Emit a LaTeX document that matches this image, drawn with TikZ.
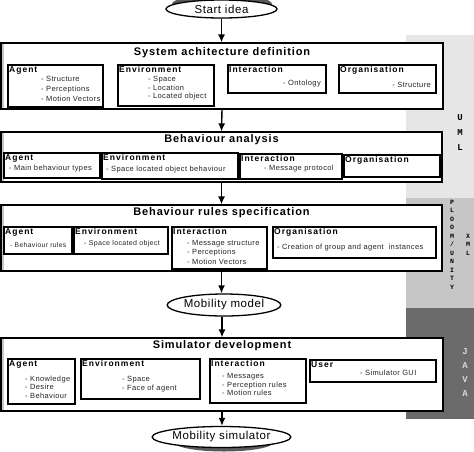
\documentclass[tikz,border=0pt]{standalone}
\usepackage{fontspec}
\setmainfont{Liberation Sans}
\newfontfamily\titlefont[LetterSpace=8]{Liberation Sans}
\newfontfamily\headfont[LetterSpace=12]{Liberation Sans}
\newfontfamily\itemfont[LetterSpace=5]{Liberation Sans}
\newfontfamily\termfont[LetterSpace=5]{Liberation Sans}
\newfontfamily\bandfont{Liberation Mono}
\usetikzlibrary{arrows.meta, positioning, shapes.geometric, fit}
\definecolor{umlgray}{HTML}{E6E6E6}
\definecolor{xmlgray}{HTML}{C6C6C6}
\definecolor{javagray}{HTML}{6B6B6B}
\tikzset{
    >=Latex,
    phase_box/.style={
        rectangle,
        draw=black,
        fill=white,
        line width=1.2pt,
        inner sep=0pt,
        path picture={\fill[black!22] (path picture bounding box.north west)
            rectangle ([xshift=2.5pt]path picture bounding box.south west);}
    },
    phase_title/.style={
        inner sep=0pt,
        font=\titlefont\bfseries\fontsize{11}{13}\selectfont
    },
    part_box/.style={
        rectangle,
        draw=black,
        fill=white,
        line width=1.3pt,
        inner sep=0pt
    },
    part_head/.style={
        anchor=north west,
        inner sep=1.6pt,
        font=\headfont\bfseries\fontsize{8.5}{10}\selectfont
    },
    part_items/.style={
        anchor=west,
        inner sep=0pt,
        align=left,
        text=black!85,
        font=\itemfont\fontsize{7.5}{9}\selectfont
    },
    term_ellipse/.style={
        ellipse,
        draw=black,
        fill=white,
        line width=1.3pt,
        inner sep=0pt,
        minimum width=111pt,
        minimum height=19pt,
        font=\termfont\fontsize{11.5}{13}\selectfont
    },
    term_shadow/.style={
        ellipse,
        fill=black!65,
        inner sep=0pt,
        minimum width=100pt,
        minimum height=19pt
    },
    band_box/.style={
        rectangle,
        draw=none,
        inner sep=0pt
    },
    band_letters/.style={
        align=center,
        inner sep=0pt,
        font=\bandfont\bfseries\fontsize{9}{15}\selectfont
    },
    flow_arrow/.style={
        -{Latex[length=8pt, width=7pt]},
        line width=1.4pt
    }
}
\newcommand{\partbox}[6]{
    \node[part_box, fit={(#2,#3)(#4,#5)}] (#1) {};
    \node[part_head] (#1Head) at (#1.north west) {#6};
}

\begin{document}
\begin{tikzpicture}[x=1pt, y=-1pt]
\useasboundingbox (0,0) rectangle (474,451);

% --- Tool bands on the right ---
\node[band_box, fill=umlgray, fit={(406,35)(474,198)}] (umlBand) {};
\node[band_box, fill=xmlgray, fit={(406,198)(474,308)}] (xmlBand) {};
\node[band_box, fill=javagray, fit={(406,308)(474,419)}] (javaBand) {};
\node[band_letters] (umlText) at (460,133) {U\\M\\L};
\node[band_letters, font=\bandfont\bfseries\fontsize{6.5}{8.5}\selectfont] (ploomText) at (452,244.5)
  {P\\L\\O\\O\\M\\/\\U\\N\\I\\T\\Y};
\node[band_letters, font=\bandfont\bfseries\fontsize{6.5}{8.5}\selectfont] (xmlText) at (468,244.5) {X\\M\\L};
\node[band_letters, text=white!85!black, font=\bandfont\bfseries\fontsize{9}{14}\selectfont] (javaText) at (465,373)
  {J\\A\\V\\A};

% --- Start ---
\node[term_shadow] (startShadow) at (222,4) {};
\node[term_ellipse, minimum height=18pt] (startIdea) at (221.5,9) {Start idea};

% --- System architecture definition ---
\node[phase_box, fit={(1,43)(443,109)}] (archPhase) {};
\node[phase_title] (archTitle) at ([yshift=-10pt]archPhase.north) {System achitecture definition};
\partbox{archAgent}{8}{65}{103}{107}{Agent}
\partbox{archEnv}{118}{65}{214}{106}{Environment}
\partbox{archInter}{228}{65}{326}{93}{Interaction}
\partbox{archOrg}{339}{65}{436}{93}{Organisation}
\node[part_items, font=\itemfont\fontsize{7.5}{10}\selectfont] (archAgentItems) at (41,89)
  {- Structure\\- Perceptions\\- Motion Vectors};
\node[part_items, font=\itemfont\fontsize{7.5}{8.5}\selectfont] (archEnvItems) at (148,88.5)
  {- Space\\- Location\\- Located object};
\node[part_items, anchor=east] (archInterItems) at (321,84) {- Ontology};
\node[part_items, anchor=east] (archOrgItems) at (431,85) {- Structure};

% --- Behaviour analysis ---
\node[phase_box, fit={(1,132)(442,182)}] (anaPhase) {};
\node[phase_title] (anaTitle) at ([yshift=-8pt]anaPhase.north) {Behaviour analysis};
\partbox{anaAgent}{4}{153}{100}{178}{Agent}
\partbox{anaEnv}{102}{153}{238}{179}{Environment}
\partbox{anaInter}{240}{154}{342}{179}{Interaction}
\partbox{anaOrg}{344}{155}{440}{177}{Organisation}
\node[part_items] (anaAgentItems) at (9,169) {- Main behaviour types};
\node[part_items] (anaEnvItems) at (106,170) {- Space located object behaviour};
\node[part_items] (anaInterItems) at (264,169) {- Message protocol};

% --- Behaviour rules specification ---
\node[phase_box, fit={(1,205)(442,271)}] (rulPhase) {};
\node[phase_title] (rulTitle) at ([yshift=-8pt]rulPhase.north) {Behaviour rules specification};
\partbox{rulAgent}{4}{227}{72}{254}{Agent}
\partbox{rulEnv}{74}{227}{168}{254}{Environment}
\partbox{rulInter}{172}{227}{267}{269}{Interaction}
\partbox{rulOrg}{273}{227}{436}{258}{Organisation}
\node[part_items, font=\itemfont\fontsize{6.8}{9}\selectfont] (rulAgentItems) at (10,245) {- Behaviour rules};
\node[part_items, font=\itemfont\fontsize{7}{9}\selectfont] (rulEnvItems) at (84,244) {- Space located object};
\node[part_items, font=\itemfont\fontsize{7.5}{9.5}\selectfont] (rulInterItems) at (187,252)
  {- Message structure\\- Perceptions\\- Motion Vectors};
\node[part_items] (rulOrgItems) at (277,248) {- Creation of group and agent\ \ instances};

% --- Mobility model ---
\node[term_ellipse, minimum width=106pt, minimum height=22pt] (mobModel) at (224,305) {Mobility model};

% --- Simulator development ---
\node[phase_box, fit={(1,338)(443,411)}] (simPhase) {};
\node[phase_title] (simTitle) at ([yshift=-8pt]simPhase.north) {Simulator development};
\partbox{simAgent}{8}{359}{75}{404}{Agent}
\partbox{simEnv}{81}{359}{200}{399}{Environment}
\partbox{simInter}{210}{359}{306}{403}{Interaction}
\partbox{simUser}{310}{360}{436}{382}{User}
\node[part_items, font=\itemfont\fontsize{7.5}{8.5}\selectfont] (simAgentItems) at (25,387)
  {- Knowledge\\- Desire\\- Behaviour};
\node[part_items, font=\itemfont\fontsize{7.5}{8.5}\selectfont] (simEnvItems) at (122,384)
  {- Space\\- Face of agent};
\node[part_items, font=\itemfont\fontsize{7.5}{8.5}\selectfont] (simInterItems) at (222,384.5)
  {- Messages\\- Perception rules\\- Motion rules};
\node[part_items] (simUserItems) at (360,373) {- Simulator GUI};

% --- End ---
\node[term_shadow] (simShadow) at (224,442) {};
\node[term_ellipse, minimum height=21pt] (mobSim) at (221.5,437) {Mobility simulator};

% --- Flow ---
\draw[flow_arrow] (startIdea.south) -- (startIdea.south |- archPhase.north);
\draw[flow_arrow] (archPhase.south) -- (anaPhase.north);
\draw[flow_arrow] (anaPhase.south) -- (rulPhase.north);
\draw[flow_arrow] (rulPhase.south) -- (rulPhase.south |- mobModel.north);
\draw[flow_arrow] (mobModel.south -| simPhase.north) -- (simPhase.north);
\draw[flow_arrow] (simPhase.south) -- (simPhase.south |- mobSim.north);

\end{tikzpicture}
\end{document}
